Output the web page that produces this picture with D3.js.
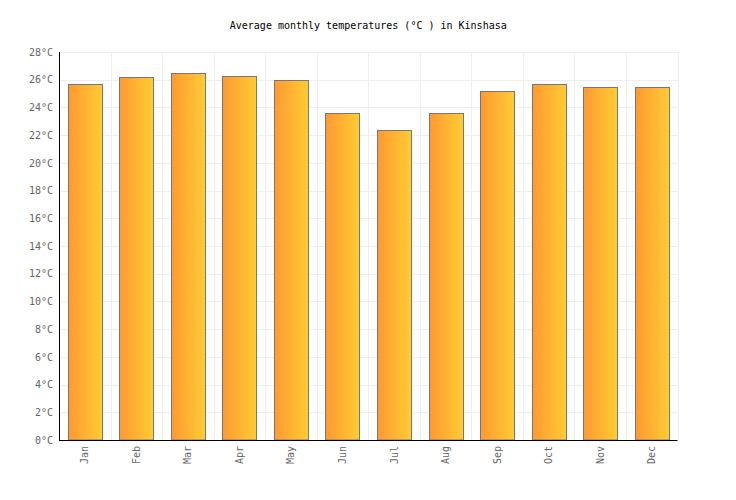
<!DOCTYPE html>
<html><head><meta charset="utf-8">
<script src="https://cdn.jsdelivr.net/npm/d3@7"></script>
<style>body{margin:0;background:#fff}svg{display:block}</style>
</head><body>
<script>
const months = ["Jan","Feb","Mar","Apr","May","Jun","Jul","Aug","Sep","Oct","Nov","Dec"];
const temps = [25.7,26.2,26.5,26.3,26.0,23.6,22.4,23.6,25.2,25.7,25.5,25.5];
const yTicks = [0,2,4,6,8,10,12,14,16,18,20,22,24,26,28];
const title = "Average monthly temperatures (°C ) in Kinshasa";

const W=736,H=500, L=59, R=677.5, T=52, B=440;
const font = "'DejaVu Sans Mono', monospace";
const svg = d3.select("body").append("svg").attr("width",W).attr("height",H);
const defs = svg.append("defs");
const g = defs.append("linearGradient").attr("id","bg").attr("x1","0").attr("x2","1").attr("y1","0").attr("y2","0");
g.append("stop").attr("offset","0").attr("stop-color","#ff9933");
g.append("stop").attr("offset","1").attr("stop-color","#ffcc33");

const x = d3.scaleBand().domain(months).range([L,R]).paddingInner(0.34).paddingOuter(0.17);
const xb = d3.scaleBand().domain(months).range([L,R]);
const y = d3.scaleLinear().domain([0,28]).range([B,T]);

// grid
svg.append("g").selectAll("line").data(yTicks).join("line")
  .attr("x1",L).attr("x2",R).attr("y1",d=>Math.round(y(d))+0.5).attr("y2",d=>Math.round(y(d))+0.5)
  .attr("stroke","#eeeeee");
svg.append("g").selectAll("line").data(months.slice(1).concat(["end"])).join("line")
  .attr("x1",(d,i)=>Math.round(L+xb.step()*(i+1))+0.5).attr("x2",(d,i)=>Math.round(L+xb.step()*(i+1))+0.5)
  .attr("y1",T).attr("y2",B).attr("stroke","#eeeeee");

// bars
svg.append("g").selectAll("rect").data(temps).join("rect")
  .attr("x",(d,i)=>Math.round(x(months[i]))+0.5)
  .attr("width",Math.round(x.bandwidth()))
  .attr("y",d=>Math.round(y(d))+0.5)
  .attr("height",d=>B-Math.round(y(d))-0.5)
  .attr("fill","url(#bg)").attr("stroke","#777777").attr("stroke-width",1);

// y axis
const ya = svg.append("g").attr("transform",`translate(${L},0)`)
  .call(d3.axisLeft(y).tickValues(yTicks).tickSize(0).tickPadding(6).tickFormat(d=>d+"°C"));
ya.select(".domain").remove();
ya.selectAll("text").attr("font-family",font).attr("font-size",10).attr("fill","#666");
svg.append("line").attr("x1",L+0.5).attr("x2",L+0.5).attr("y1",T).attr("y2",B).attr("stroke","#000");

// x axis
const xa = svg.append("g").attr("transform",`translate(0,${B})`)
  .call(d3.axisBottom(xb).tickSize(0).tickPadding(0));
xa.select(".domain").remove();
xa.selectAll("text").attr("font-family",font).attr("font-size",10).attr("fill","#666")
  .attr("transform","rotate(-90)").attr("text-anchor","end").attr("dy","0.35em").attr("x",-6).attr("y",0);
svg.append("line").attr("x1",L).attr("x2",R).attr("y1",B+0.5).attr("y2",B+0.5).attr("stroke","#000");

svg.append("text").attr("x",(L+R)/2).attr("y",29).attr("text-anchor","middle")
  .attr("font-family",font).attr("font-size",10).attr("fill","#000").text(title);
</script>
</body></html>
